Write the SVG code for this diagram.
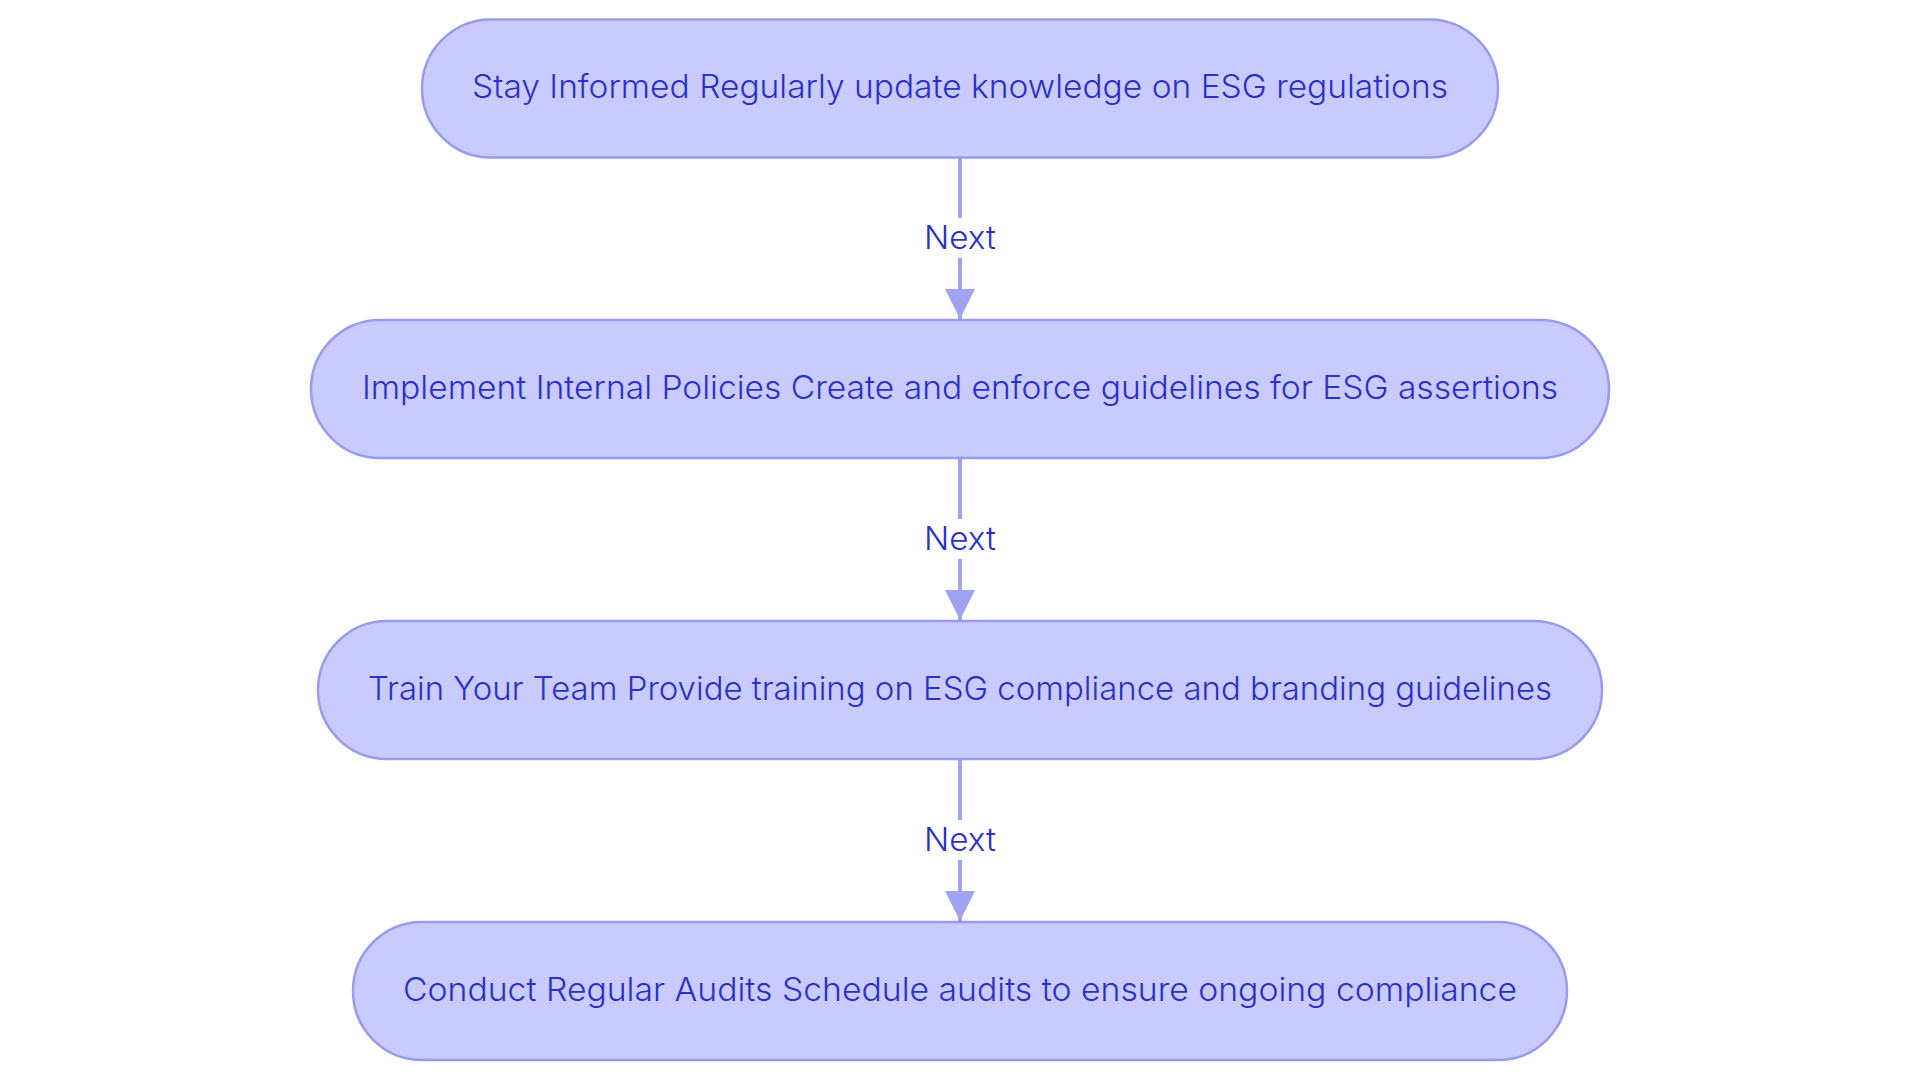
<svg xmlns="http://www.w3.org/2000/svg" width="1920" height="1083" viewBox="0 0 1920 1083">
<style>
.node rect{fill:#C9CAFD;stroke:#989CF0;stroke-width:2.5}
.node text{font-family:Inter,"Noto Sans","Liberation Sans",sans-serif;font-size:32.5px;font-weight:300;fill:#2B31C8;text-anchor:middle;dominant-baseline:central}
.edge line{stroke:#A0A3F2;stroke-width:4}
.lbl rect{fill:#ffffff}
.lbl text{font-family:Inter,"Noto Sans","Liberation Sans",sans-serif;font-size:32.5px;font-weight:300;fill:#2B31C8;text-anchor:middle;dominant-baseline:central}
</style>
<defs>
<marker id="arr" markerUnits="userSpaceOnUse" markerWidth="32" markerHeight="32" refX="30" refY="15" orient="auto" viewBox="0 0 32 30">
<path d="M0,0 L30,15 L0,30 Z" fill="#A0A3F2"/>
</marker>
</defs>
<rect width="1920" height="1083" fill="#ffffff"/>
<g id="connectors" class="edge">
<line x1="960" y1="158" x2="960" y2="319" marker-end="url(#arr)"/>
<line x1="960" y1="459" x2="960" y2="620" marker-end="url(#arr)"/>
<line x1="960" y1="760" x2="960" y2="921" marker-end="url(#arr)"/>
<g class="lbl">
<rect x="920" y="218" width="80" height="40"/>
<text x="960" y="237" textLength="72" lengthAdjust="spacingAndGlyphs">Next</text>
<rect x="920" y="519" width="80" height="40"/>
<text x="960" y="538" textLength="72" lengthAdjust="spacingAndGlyphs">Next</text>
<rect x="920" y="820" width="80" height="40"/>
<text x="960" y="839" textLength="72" lengthAdjust="spacingAndGlyphs">Next</text>
</g>
</g>
<g id="node1" class="node">
<rect x="422" y="19.5" width="1076" height="138" rx="69" ry="69"/>
<text x="960" y="86" textLength="976" lengthAdjust="spacingAndGlyphs">Stay Informed Regularly update knowledge on ESG regulations</text>
</g>
<g id="node2" class="node">
<rect x="311" y="320" width="1298" height="138" rx="69" ry="69"/>
<text x="960" y="387" textLength="1196" lengthAdjust="spacingAndGlyphs">Implement Internal Policies Create and enforce guidelines for ESG assertions</text>
</g>
<g id="node3" class="node">
<rect x="318" y="621" width="1284" height="138" rx="69" ry="69"/>
<text x="960" y="688" textLength="1184" lengthAdjust="spacingAndGlyphs">Train Your Team Provide training on ESG compliance and branding guidelines</text>
</g>
<g id="node4" class="node">
<rect x="353" y="922" width="1214" height="138" rx="69" ry="69"/>
<text x="960" y="989" textLength="1114" lengthAdjust="spacingAndGlyphs">Conduct Regular Audits Schedule audits to ensure ongoing compliance</text>
</g>
</svg>
